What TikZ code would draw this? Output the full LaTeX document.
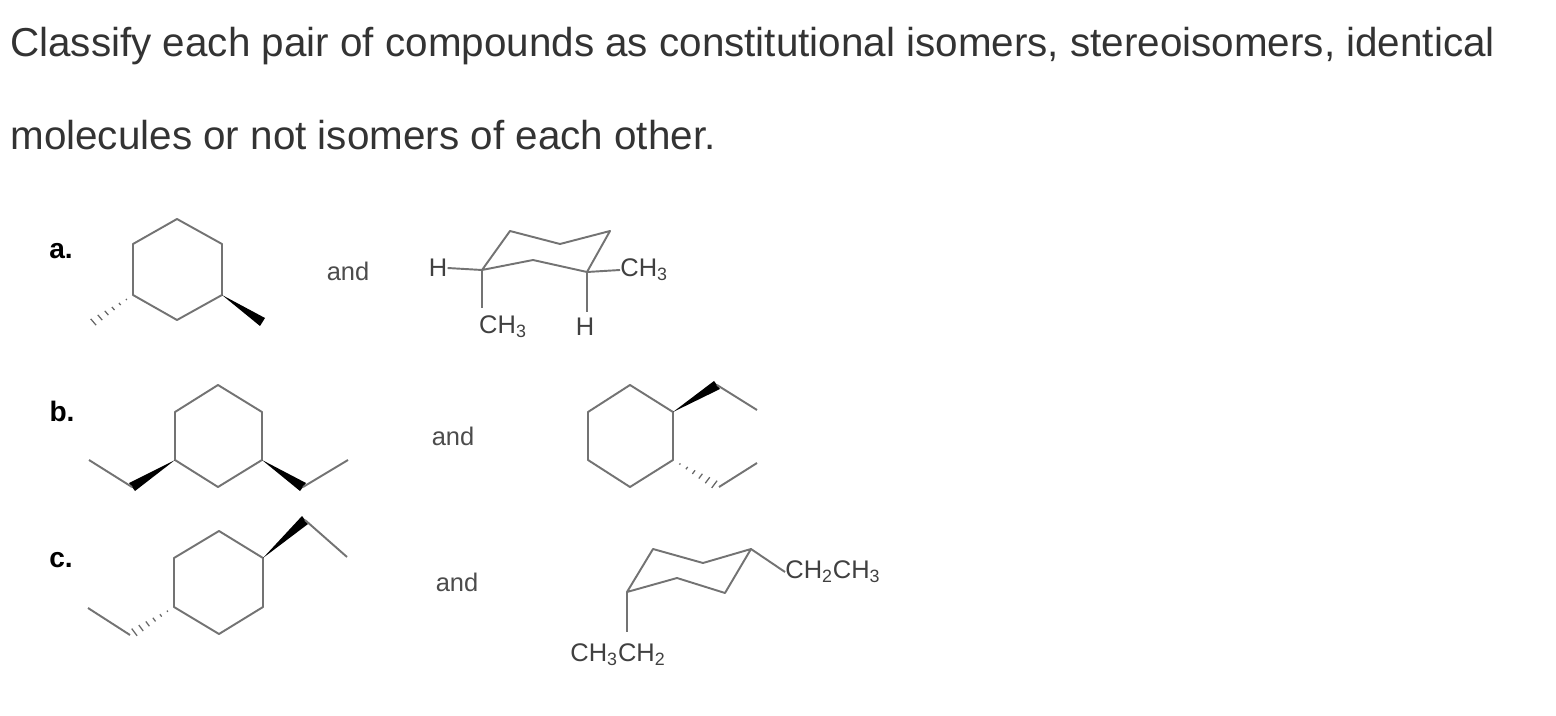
\documentclass[tikz,border=0pt]{standalone}
\usepackage{fontspec}
\setmainfont{Liberation Sans}
\usetikzlibrary{calc}
\newcommand{\sbs}[1]{\textsubscript{#1}}
\begin{document}
\begin{tikzpicture}[x=0.02cm,y=-0.02cm,
  bond/.style={draw=black!55,line width=1.1pt,line join=round},
  wedge/.style={fill=black},
  hash/.style={draw=black!60,line width=0.7pt},
  lbl/.style={font=\fontsize{14.5}{16}\selectfont,text=black!75,inner sep=0pt},
  andlbl/.style={font=\fontsize{14.5}{16}\selectfont,text=black!70,inner sep=0pt},
  part/.style={font=\bfseries\fontsize{16}{18}\selectfont,inner sep=0pt}]
\useasboundingbox (0,0) rectangle (1556,716);
\node[anchor=base west,inner sep=0pt,text=black!80,font=\fontsize{23}{26}\selectfont] (t1) at (10,57) {Classify each pair of compounds as constitutional isomers, stereoisomers, identical};
\node[anchor=base west,inner sep=0pt,text=black!80,font=\fontsize{23}{26}\selectfont] (t2) at (10,150) {molecules or not isomers of each other.};
% labels
\node[part] (pa) at (61,251) {a.};
\node[part] (pb) at (62,411) {b.};
\node[part] (pc) at (61,560) {c.};
\node[andlbl] (aa) at (348,271) {and};
\node[andlbl] (ab) at (453,436) {and};
\node[andlbl] (ac) at (457,582) {and};
% a ring 1
\draw[bond] (177,219)--(222,244)--(222,295)--(177,320)--(133,295)--(133,244)--cycle;
\fill[wedge] (222,295)--(265,318)--(260,326)--cycle;
\foreach \t in {0.15,0.3,...,0.95}{\draw[hash] ($(133,295)!\t!(89,325)+(-\t*3,-\t*3.5)$)--($(133,295)!\t!(89,325)+(\t*3,\t*3.5)$);}
% a chair
\coordinate (cl) at (482,270); \coordinate (cr) at (587,272);
\draw[bond] (cl)--(510,231)--(560,244)--(610,231)--(cr)--(533,260)--cycle;
\node[lbl] (ha) at (438,268) {H};
\node[lbl,anchor=west] (ma) at (620,270) {CH\sbs{3}};
\node[lbl] (mb) at (503,327) {CH\sbs{3}};
\node[lbl] (hb) at (585,327) {H};
\draw[bond] (ha.east)--(cl);
\draw[bond] (cr)--(ma.west);
\draw[bond] (cl)--(482,308);
\draw[bond] (cr)--(587,312);
% b ring 1
\draw[bond] (218,385)--(262,412)--(262,460)--(218,487)--(175,460)--(175,412)--cycle;
\fill[wedge] (175,460)--(135,491)--(129,483)--cycle;
\draw[bond] (132,487)--(89,460);
\fill[wedge] (262,460)--(306,483)--(300,491)--cycle;
\draw[bond] (303,487)--(348,460);
% b ring 2
\draw[bond] (588,412)--(630,385)--(673,412)--(673,460)--(630,487)--(588,460)--cycle;
\fill[wedge] (673,412)--(714,381)--(720,389)--cycle;
\draw[bond] (717,385)--(757,410);
\foreach \t in {0.15,0.3,...,0.95}{\draw[hash] ($(673,460)!\t!(719,487)+(\t*3,-\t*4)$)--($(673,460)!\t!(719,487)+(-\t*3,\t*4)$);}
\draw[bond] (719,487)--(757,463);
% c ring 1
\draw[bond] (219,531)--(263,558)--(263,607)--(219,634)--(174,607)--(174,558)--cycle;
\fill[wedge] (263,558)--(302,516)--(308,524)--cycle;
\draw[bond] (305,520)--(347,557);
\foreach \t in {0.15,0.3,...,0.95}{\draw[hash] ($(174,607)!\t!(130,635)+(-\t*3,-\t*4)$)--($(174,607)!\t!(130,635)+(\t*3,\t*4)$);}
\draw[bond] (130,635)--(88,608);
% c chair
\coordinate (dl) at (627,592); \coordinate (dr) at (751,549);
\draw[bond] (dl)--(653,549)--(703,563)--(dr)--(725,593)--(677,578)--cycle;
\node[lbl,anchor=west] (ea) at (785,572) {CH\sbs{2}CH\sbs{3}};
\node[lbl] (eb) at (618,655) {CH\sbs{3}CH\sbs{2}};
\draw[bond] (dr)--(ea.west);
\draw[bond] (dl)--(627,632);
\end{tikzpicture}
\end{document}
